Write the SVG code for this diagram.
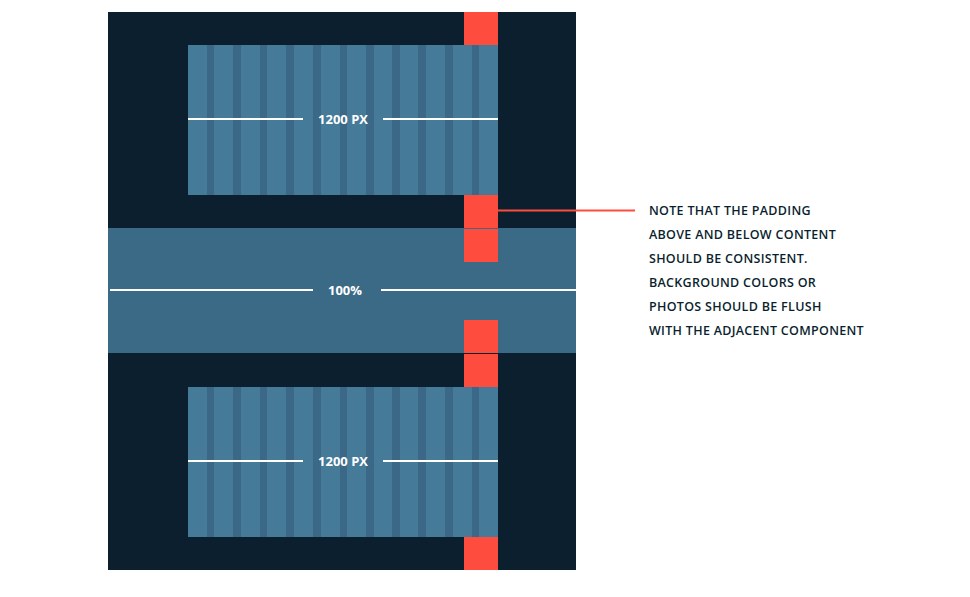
<svg xmlns="http://www.w3.org/2000/svg" width="970" height="597" viewBox="0 0 970 597">
<style>
.dark{fill:#0b1f2f}.band{fill:#3b6a87}.box{fill:#467a99}.st{fill:#3b6886}.red{fill:#fe4c3f}
.wl{stroke:#fff;stroke-width:2}
.lbl{font-family:"Open Sans",sans-serif;font-weight:700;font-size:13px;fill:#fff;text-anchor:middle}
.note{font-family:"Open Sans",sans-serif;font-weight:600;font-size:12.5px;fill:#0b1f2f;letter-spacing:0.3px}
</style>
<defs>
<g id="stripes">
<rect class="box" x="188" y="0" width="310" height="150"/>
<g class="st">
<rect x="207" width="7" height="150"/><rect x="233" width="8" height="150"/><rect x="260" width="7" height="150"/><rect x="286" width="8" height="150"/><rect x="313" width="8" height="150"/><rect x="340" width="7" height="150"/><rect x="366" width="8" height="150"/><rect x="392" width="8" height="150"/><rect x="418" width="8" height="150"/><rect x="445" width="8" height="150"/><rect x="472" width="7" height="150"/>
</g>
</g>
</defs>
<rect width="970" height="597" fill="#fff"/>
<g id="top"><rect class="dark" x="108" y="12" width="468" height="216"/>
<use href="#stripes" y="45"/>
<line class="wl" x1="188" y1="119" x2="303" y2="119"/><line class="wl" x1="383" y1="119" x2="498" y2="119"/>
<text class="lbl" x="343" y="124">1200 PX</text></g>
<g id="band"><rect class="band" x="108" y="228" width="468" height="125"/>
<line class="wl" x1="110" y1="290" x2="313" y2="290"/><line class="wl" x1="381" y1="290" x2="576" y2="290"/>
<text class="lbl" x="345" y="295">100%</text></g>
<g id="bottom"><rect class="dark" x="108" y="353" width="468" height="217"/>
<use href="#stripes" y="387"/>
<line class="wl" x1="188" y1="461" x2="303" y2="461"/><line class="wl" x1="383" y1="461" x2="498" y2="461"/>
<text class="lbl" x="343" y="466">1200 PX</text></g>
<g id="padding">
<rect class="red" x="464" y="12" width="34" height="33"/>
<rect class="red" x="464" y="195" width="34" height="33"/>
<rect class="red" x="464" y="229" width="34" height="33"/>
<rect class="red" x="464" y="320" width="34" height="33"/>
<rect class="red" x="464" y="354" width="34" height="33"/>
<rect class="red" x="464" y="537" width="34" height="33"/>
</g>
<g id="connectors"><line x1="498" y1="210.5" x2="635" y2="210.5" stroke="#fe4c3f" stroke-width="2"/></g>
<g id="note">
<text class="note" x="649" y="215">NOTE THAT THE PADDING</text>
<text class="note" x="649" y="239">ABOVE AND BELOW CONTENT</text>
<text class="note" x="649" y="263">SHOULD BE CONSISTENT.</text>
<text class="note" x="649" y="287">BACKGROUND COLORS OR</text>
<text class="note" x="649" y="311">PHOTOS SHOULD BE FLUSH</text>
<text class="note" x="649" y="335">WITH THE ADJACENT COMPONENT</text>
</g>
</svg>
